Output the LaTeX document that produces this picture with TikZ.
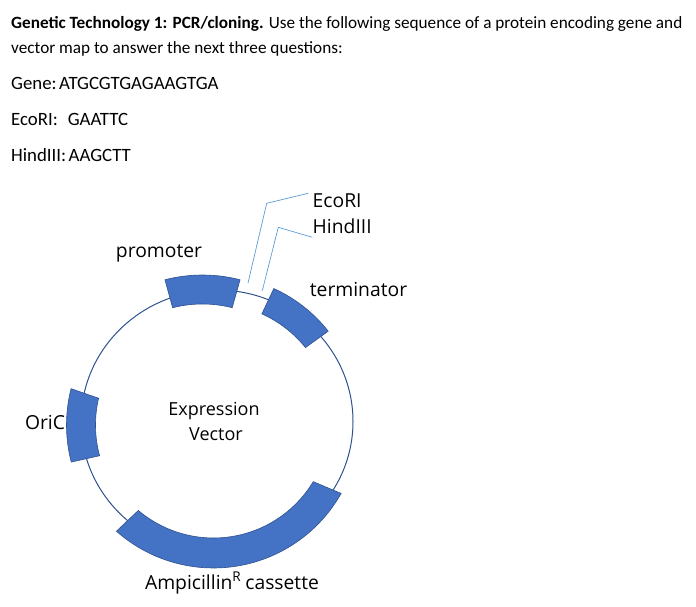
\documentclass[tikz,border=0pt]{standalone}
\usepackage{fontspec}
\usepackage{xcolor}
\usetikzlibrary{calc}
\setmainfont{Carlito}
\newfontfamily\maplabelfont{Open Sans}
\definecolor{bandblue}{HTML}{4472C4}
\definecolor{bandedge}{HTML}{2F528F}
\definecolor{leaderblue}{HTML}{5B9BD5}
% centre x, centre y, outer and inner radius, outer start and end, inner start and end
\newcommand{\band}[8]{\filldraw[vectorband] ($(#1,#2)+(#5:#3)$)
  arc[start angle=#5, end angle=#6, radius=#3pt]
  -- ($(#1,#2)+(#8:#4)$)
  arc[start angle=#8, end angle=#7, radius=#4pt] -- cycle;}
\tikzset{
  questiontext/.style={anchor=base west, inner sep=0pt, font=\fontsize{17.2}{20}\selectfont},
  seqtext/.style={anchor=base west, inner sep=0pt, font=\fontsize{18.8}{22}\selectfont},
  maplabel/.style={inner sep=0pt, font=\maplabelfont\fontsize{19.3}{22}\selectfont},
  vectorband/.style={fill=bandblue, draw=bandedge, line width=0.6pt},
  leader/.style={leaderblue, line width=0.7pt}
}

\begin{document}
\begin{tikzpicture}[x=1pt,y=1pt]
\useasboundingbox (0,0) rectangle (696,607);
% question text
\node[questiontext] (title) at (11,578) {\textbf{Genetic Technology 1: PCR/cloning.} Use the following sequence of a protein encoding gene and};
\node[questiontext] (titletwo) at (11,553) {vector map to answer the next three questions:};
\node[seqtext] (gene) at (11,517) {Gene:\hspace{2.5pt}ATGCGTGAGAAGTGA};
\node[seqtext] (ecoseq) at (11,481) {EcoRI:\hspace{10pt}GAATTC};
\node[seqtext] (hindseq) at (11,445) {HindIII:\hspace{2.5pt}AAGCTT};
% plasmid
\draw[bandedge, line width=1pt] (217,185.5) ellipse [x radius=136pt, y radius=131.5pt];
\band{202.5}{182}{150}{121}{104.5}{75.5}{104.3}{75.8}
\band{213.5}{185.5}{146}{118}{65.6}{38.2}{65.8}{38.8}
\band{213.5}{182}{147}{118}{165.7}{194.6}{166.9}{195.1}
\band{213.5}{185.5}{146.5}{116.5}{228.5}{330.6}{229.8}{328.9}
% labels
\node[maplabel] (promoter) at (159,354) {promoter};
\node[maplabel] (terminator) at (358.5,317.5) {terminator};
\node[maplabel] (oric) at (45,184) {OriC};
\node[maplabel, font=\maplabelfont\fontsize{18}{22}\selectfont, align=center] (vector) at (214,186) {Expression\\[3pt]\hspace{4pt}Vector};
\node[maplabel] (amp) at (232,24) {Ampicillin\textsuperscript{R}\hspace{4pt}cassette};
\node[maplabel, anchor=west] (ecori) at (312.5,406) {EcoRI};
\node[maplabel, anchor=west] (hindiii) at (312.5,381) {HindIII};
% restriction sites
\coordinate (ecosite) at (248,324);
\coordinate (ecobend) at (266.7,403.7);
\coordinate (ecoend) at (308.3,413.7);
\coordinate (hindsite) at (262.3,316.3);
\coordinate (hindbend) at (278.3,379.7);
\coordinate (hindend) at (312.3,369.7);
\draw[leader] (ecosite) -- (ecobend) -- (ecoend);
\draw[leader] (hindsite) -- (hindbend) -- (hindend);
\end{tikzpicture}
\end{document}
